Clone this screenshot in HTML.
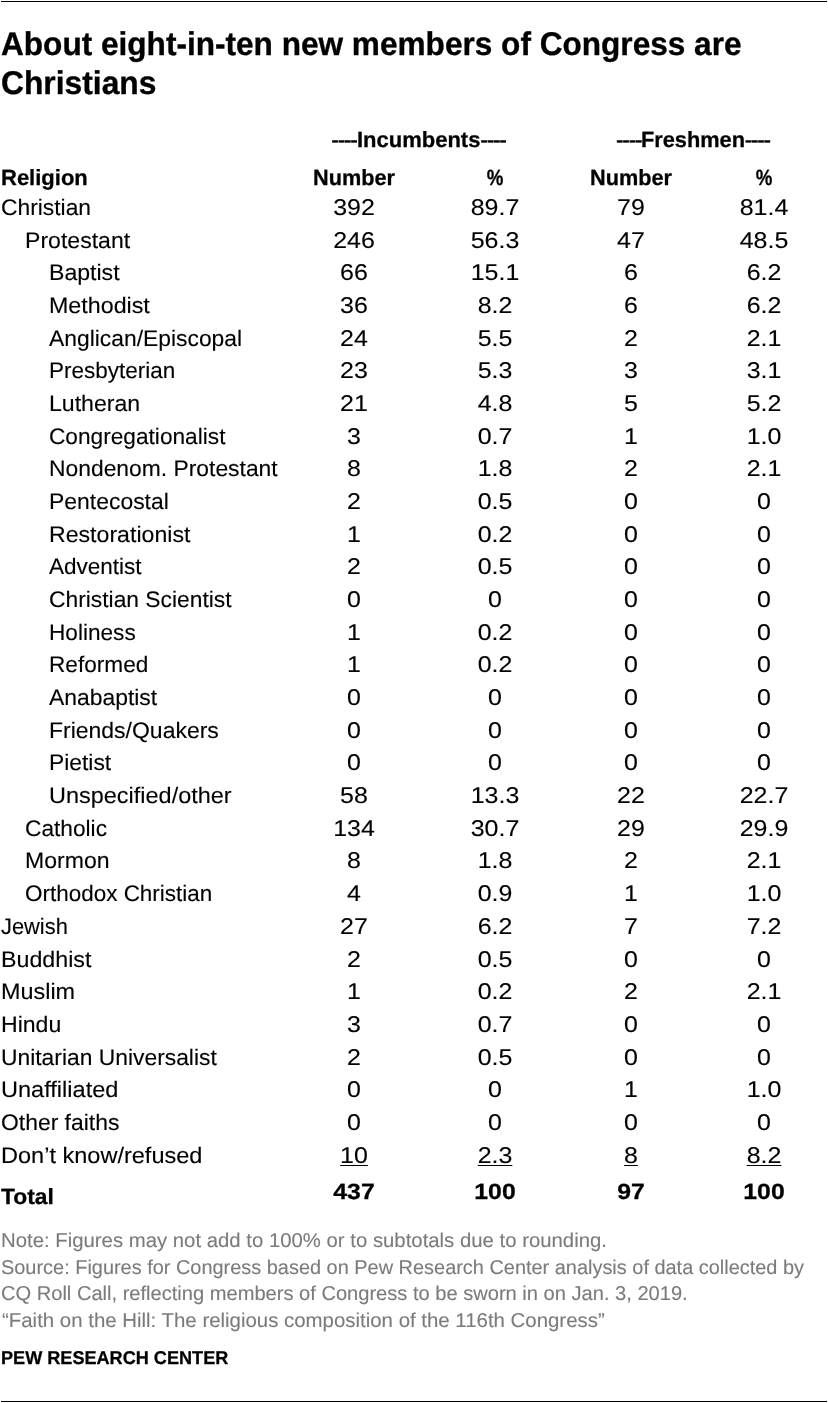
<!DOCTYPE html>
<html lang="en">
<head>
<meta charset="utf-8">
<title>About eight-in-ten new members of Congress are Christians</title>
<style>
html,body{margin:0;padding:0;background:#fff;}
body{width:828px;height:1403px;position:relative;overflow:hidden;font-family:"Liberation Sans", sans-serif;color:#000;text-rendering:geometricPrecision;}
.t{position:absolute;white-space:pre;margin:0;padding:0;-webkit-text-stroke:0.12px currentColor;}
.l{transform-origin:0 50%;}
.c{text-align:center;transform-origin:50% 50%;}
.b{font-weight:bold;-webkit-text-stroke:0.28px #000;}
.g{color:#7b7b7b;}
.ti{-webkit-text-stroke:0.35px #000;}
.d{display:inline-block;font-weight:normal;font-size:18px;letter-spacing:-1px;position:relative;top:-0.9px;transform:scale(1.27,1.4);margin:0 2.7px;}
.u{text-decoration:underline;text-decoration-thickness:1.3px;text-underline-offset:2px;}
.rule{position:absolute;left:1px;width:826px;height:1px;background:#000;}
</style>
</head>
<body>
<div class="rule" style="top:1px"></div>
<div class="rule" style="top:1401px"></div>
<div class="t l b ti" style="left:1.00px;top:24px;font-size:32.8px;line-height:39px;transform:scaleX(0.963);">About eight-in-ten new members of Congress are</div>
<div class="t l b ti" style="left:1.00px;top:63px;font-size:32.8px;line-height:39px;transform:scaleX(0.969);">Christians</div>
<div class="t c b" style="left:298.70px;width:240px;top:127px;font-size:22px;line-height:26px;transform:scaleX(1.0);"><span class="d">----</span>Incumbents<span class="d">----</span></div>
<div class="t c b" style="left:573.30px;width:240px;top:127px;font-size:22px;line-height:26px;transform:scaleX(0.99);"><span class="d">----</span>Freshmen<span class="d">----</span></div>
<div class="t l b" style="left:1.00px;top:165px;font-size:22px;line-height:26px;transform:scaleX(1.0);">Religion</div>
<div class="t c b" style="left:234.00px;width:240px;top:165px;font-size:22px;line-height:26px;transform:scaleX(0.985);">Number</div>
<div class="t c b" style="left:374.80px;width:240px;top:165px;font-size:22px;line-height:26px;transform:scaleX(0.85);">%</div>
<div class="t c b" style="left:511.00px;width:240px;top:165px;font-size:22px;line-height:26px;transform:scaleX(0.985);">Number</div>
<div class="t c b" style="left:644.30px;width:240px;top:165px;font-size:22px;line-height:26px;transform:scaleX(0.85);">%</div>
<div class="t l " style="left:1.40px;top:194px;font-size:22.5px;line-height:27px;transform:scaleX(1.0137);">Christian</div>
<div class="t c " style="left:234.00px;width:240px;top:194px;font-size:22.8px;line-height:27px;transform:scaleX(1.095);">392</div>
<div class="t c " style="left:374.80px;width:240px;top:194px;font-size:22.8px;line-height:27px;transform:scaleX(1.095);">89.7</div>
<div class="t c " style="left:511.00px;width:240px;top:194px;font-size:22.8px;line-height:27px;transform:scaleX(1.095);">79</div>
<div class="t c " style="left:644.30px;width:240px;top:194px;font-size:22.8px;line-height:27px;transform:scaleX(1.095);">81.4</div>
<div class="t l " style="left:24.80px;top:227px;font-size:22.5px;line-height:27px;transform:scaleX(1.0257);">Protestant</div>
<div class="t c " style="left:234.00px;width:240px;top:227px;font-size:22.8px;line-height:27px;transform:scaleX(1.095);">246</div>
<div class="t c " style="left:374.80px;width:240px;top:227px;font-size:22.8px;line-height:27px;transform:scaleX(1.095);">56.3</div>
<div class="t c " style="left:511.00px;width:240px;top:227px;font-size:22.8px;line-height:27px;transform:scaleX(1.095);">47</div>
<div class="t c " style="left:644.30px;width:240px;top:227px;font-size:22.8px;line-height:27px;transform:scaleX(1.095);">48.5</div>
<div class="t l " style="left:49.00px;top:259px;font-size:22.5px;line-height:27px;transform:scaleX(1.026);">Baptist</div>
<div class="t c " style="left:234.00px;width:240px;top:259px;font-size:22.8px;line-height:27px;transform:scaleX(1.095);">66</div>
<div class="t c " style="left:374.80px;width:240px;top:259px;font-size:22.8px;line-height:27px;transform:scaleX(1.095);">15.1</div>
<div class="t c " style="left:511.00px;width:240px;top:259px;font-size:22.8px;line-height:27px;transform:scaleX(1.095);">6</div>
<div class="t c " style="left:644.30px;width:240px;top:259px;font-size:22.8px;line-height:27px;transform:scaleX(1.095);">6.2</div>
<div class="t l " style="left:49.00px;top:292px;font-size:22.5px;line-height:27px;transform:scaleX(1.0335);">Methodist</div>
<div class="t c " style="left:234.00px;width:240px;top:292px;font-size:22.8px;line-height:27px;transform:scaleX(1.095);">36</div>
<div class="t c " style="left:374.80px;width:240px;top:292px;font-size:22.8px;line-height:27px;transform:scaleX(1.095);">8.2</div>
<div class="t c " style="left:511.00px;width:240px;top:292px;font-size:22.8px;line-height:27px;transform:scaleX(1.095);">6</div>
<div class="t c " style="left:644.30px;width:240px;top:292px;font-size:22.8px;line-height:27px;transform:scaleX(1.095);">6.2</div>
<div class="t l " style="left:49.00px;top:325px;font-size:22.5px;line-height:27px;transform:scaleX(1.0157);">Anglican/Episcopal</div>
<div class="t c " style="left:234.00px;width:240px;top:325px;font-size:22.8px;line-height:27px;transform:scaleX(1.095);">24</div>
<div class="t c " style="left:374.80px;width:240px;top:325px;font-size:22.8px;line-height:27px;transform:scaleX(1.095);">5.5</div>
<div class="t c " style="left:511.00px;width:240px;top:325px;font-size:22.8px;line-height:27px;transform:scaleX(1.095);">2</div>
<div class="t c " style="left:644.30px;width:240px;top:325px;font-size:22.8px;line-height:27px;transform:scaleX(1.095);">2.1</div>
<div class="t l " style="left:49.00px;top:357px;font-size:22.5px;line-height:27px;transform:scaleX(0.9992);">Presbyterian</div>
<div class="t c " style="left:234.00px;width:240px;top:357px;font-size:22.8px;line-height:27px;transform:scaleX(1.095);">23</div>
<div class="t c " style="left:374.80px;width:240px;top:357px;font-size:22.8px;line-height:27px;transform:scaleX(1.095);">5.3</div>
<div class="t c " style="left:511.00px;width:240px;top:357px;font-size:22.8px;line-height:27px;transform:scaleX(1.095);">3</div>
<div class="t c " style="left:644.30px;width:240px;top:357px;font-size:22.8px;line-height:27px;transform:scaleX(1.095);">3.1</div>
<div class="t l " style="left:49.00px;top:390px;font-size:22.5px;line-height:27px;transform:scaleX(1.0269);">Lutheran</div>
<div class="t c " style="left:234.00px;width:240px;top:390px;font-size:22.8px;line-height:27px;transform:scaleX(1.095);">21</div>
<div class="t c " style="left:374.80px;width:240px;top:390px;font-size:22.8px;line-height:27px;transform:scaleX(1.095);">4.8</div>
<div class="t c " style="left:511.00px;width:240px;top:390px;font-size:22.8px;line-height:27px;transform:scaleX(1.095);">5</div>
<div class="t c " style="left:644.30px;width:240px;top:390px;font-size:22.8px;line-height:27px;transform:scaleX(1.095);">5.2</div>
<div class="t l " style="left:49.00px;top:423px;font-size:22.5px;line-height:27px;transform:scaleX(1.0075);">Congregationalist</div>
<div class="t c " style="left:234.00px;width:240px;top:423px;font-size:22.8px;line-height:27px;transform:scaleX(1.095);">3</div>
<div class="t c " style="left:374.80px;width:240px;top:423px;font-size:22.8px;line-height:27px;transform:scaleX(1.095);">0.7</div>
<div class="t c " style="left:511.00px;width:240px;top:423px;font-size:22.8px;line-height:27px;transform:scaleX(1.095);">1</div>
<div class="t c " style="left:644.30px;width:240px;top:423px;font-size:22.8px;line-height:27px;transform:scaleX(1.095);">1.0</div>
<div class="t l " style="left:49.00px;top:455px;font-size:22.5px;line-height:27px;transform:scaleX(1.0156);">Nondenom. Protestant</div>
<div class="t c " style="left:234.00px;width:240px;top:455px;font-size:22.8px;line-height:27px;transform:scaleX(1.095);">8</div>
<div class="t c " style="left:374.80px;width:240px;top:455px;font-size:22.8px;line-height:27px;transform:scaleX(1.095);">1.8</div>
<div class="t c " style="left:511.00px;width:240px;top:455px;font-size:22.8px;line-height:27px;transform:scaleX(1.095);">2</div>
<div class="t c " style="left:644.30px;width:240px;top:455px;font-size:22.8px;line-height:27px;transform:scaleX(1.095);">2.1</div>
<div class="t l " style="left:49.00px;top:488px;font-size:22.5px;line-height:27px;transform:scaleX(1.019);">Pentecostal</div>
<div class="t c " style="left:234.00px;width:240px;top:488px;font-size:22.8px;line-height:27px;transform:scaleX(1.095);">2</div>
<div class="t c " style="left:374.80px;width:240px;top:488px;font-size:22.8px;line-height:27px;transform:scaleX(1.095);">0.5</div>
<div class="t c " style="left:511.00px;width:240px;top:488px;font-size:22.8px;line-height:27px;transform:scaleX(1.095);">0</div>
<div class="t c " style="left:644.30px;width:240px;top:488px;font-size:22.8px;line-height:27px;transform:scaleX(1.095);">0</div>
<div class="t l " style="left:49.00px;top:521px;font-size:22.5px;line-height:27px;transform:scaleX(1.0277);">Restorationist</div>
<div class="t c " style="left:234.00px;width:240px;top:521px;font-size:22.8px;line-height:27px;transform:scaleX(1.095);">1</div>
<div class="t c " style="left:374.80px;width:240px;top:521px;font-size:22.8px;line-height:27px;transform:scaleX(1.095);">0.2</div>
<div class="t c " style="left:511.00px;width:240px;top:521px;font-size:22.8px;line-height:27px;transform:scaleX(1.095);">0</div>
<div class="t c " style="left:644.30px;width:240px;top:521px;font-size:22.8px;line-height:27px;transform:scaleX(1.095);">0</div>
<div class="t l " style="left:49.00px;top:553px;font-size:22.5px;line-height:27px;transform:scaleX(1.0);">Adventist</div>
<div class="t c " style="left:234.00px;width:240px;top:553px;font-size:22.8px;line-height:27px;transform:scaleX(1.095);">2</div>
<div class="t c " style="left:374.80px;width:240px;top:553px;font-size:22.8px;line-height:27px;transform:scaleX(1.095);">0.5</div>
<div class="t c " style="left:511.00px;width:240px;top:553px;font-size:22.8px;line-height:27px;transform:scaleX(1.095);">0</div>
<div class="t c " style="left:644.30px;width:240px;top:553px;font-size:22.8px;line-height:27px;transform:scaleX(1.095);">0</div>
<div class="t l " style="left:49.00px;top:586px;font-size:22.5px;line-height:27px;transform:scaleX(1.0139);">Christian Scientist</div>
<div class="t c " style="left:234.00px;width:240px;top:586px;font-size:22.8px;line-height:27px;transform:scaleX(1.095);">0</div>
<div class="t c " style="left:374.80px;width:240px;top:586px;font-size:22.8px;line-height:27px;transform:scaleX(1.095);">0</div>
<div class="t c " style="left:511.00px;width:240px;top:586px;font-size:22.8px;line-height:27px;transform:scaleX(1.095);">0</div>
<div class="t c " style="left:644.30px;width:240px;top:586px;font-size:22.8px;line-height:27px;transform:scaleX(1.095);">0</div>
<div class="t l " style="left:49.00px;top:619px;font-size:22.5px;line-height:27px;transform:scaleX(1.0048);">Holiness</div>
<div class="t c " style="left:234.00px;width:240px;top:619px;font-size:22.8px;line-height:27px;transform:scaleX(1.095);">1</div>
<div class="t c " style="left:374.80px;width:240px;top:619px;font-size:22.8px;line-height:27px;transform:scaleX(1.095);">0.2</div>
<div class="t c " style="left:511.00px;width:240px;top:619px;font-size:22.8px;line-height:27px;transform:scaleX(1.095);">0</div>
<div class="t c " style="left:644.30px;width:240px;top:619px;font-size:22.8px;line-height:27px;transform:scaleX(1.095);">0</div>
<div class="t l " style="left:49.00px;top:651px;font-size:22.5px;line-height:27px;transform:scaleX(1.0053);">Reformed</div>
<div class="t c " style="left:234.00px;width:240px;top:651px;font-size:22.8px;line-height:27px;transform:scaleX(1.095);">1</div>
<div class="t c " style="left:374.80px;width:240px;top:651px;font-size:22.8px;line-height:27px;transform:scaleX(1.095);">0.2</div>
<div class="t c " style="left:511.00px;width:240px;top:651px;font-size:22.8px;line-height:27px;transform:scaleX(1.095);">0</div>
<div class="t c " style="left:644.30px;width:240px;top:651px;font-size:22.8px;line-height:27px;transform:scaleX(1.095);">0</div>
<div class="t l " style="left:49.00px;top:684px;font-size:22.5px;line-height:27px;transform:scaleX(1.0172);">Anabaptist</div>
<div class="t c " style="left:234.00px;width:240px;top:684px;font-size:22.8px;line-height:27px;transform:scaleX(1.095);">0</div>
<div class="t c " style="left:374.80px;width:240px;top:684px;font-size:22.8px;line-height:27px;transform:scaleX(1.095);">0</div>
<div class="t c " style="left:511.00px;width:240px;top:684px;font-size:22.8px;line-height:27px;transform:scaleX(1.095);">0</div>
<div class="t c " style="left:644.30px;width:240px;top:684px;font-size:22.8px;line-height:27px;transform:scaleX(1.095);">0</div>
<div class="t l " style="left:49.00px;top:717px;font-size:22.5px;line-height:27px;transform:scaleX(1.0211);">Friends/Quakers</div>
<div class="t c " style="left:234.00px;width:240px;top:717px;font-size:22.8px;line-height:27px;transform:scaleX(1.095);">0</div>
<div class="t c " style="left:374.80px;width:240px;top:717px;font-size:22.8px;line-height:27px;transform:scaleX(1.095);">0</div>
<div class="t c " style="left:511.00px;width:240px;top:717px;font-size:22.8px;line-height:27px;transform:scaleX(1.095);">0</div>
<div class="t c " style="left:644.30px;width:240px;top:717px;font-size:22.8px;line-height:27px;transform:scaleX(1.095);">0</div>
<div class="t l " style="left:49.00px;top:749px;font-size:22.5px;line-height:27px;transform:scaleX(1.0145);">Pietist</div>
<div class="t c " style="left:234.00px;width:240px;top:749px;font-size:22.8px;line-height:27px;transform:scaleX(1.095);">0</div>
<div class="t c " style="left:374.80px;width:240px;top:749px;font-size:22.8px;line-height:27px;transform:scaleX(1.095);">0</div>
<div class="t c " style="left:511.00px;width:240px;top:749px;font-size:22.8px;line-height:27px;transform:scaleX(1.095);">0</div>
<div class="t c " style="left:644.30px;width:240px;top:749px;font-size:22.8px;line-height:27px;transform:scaleX(1.095);">0</div>
<div class="t l " style="left:49.00px;top:782px;font-size:22.5px;line-height:27px;transform:scaleX(1.0431);">Unspecified/other</div>
<div class="t c " style="left:234.00px;width:240px;top:782px;font-size:22.8px;line-height:27px;transform:scaleX(1.095);">58</div>
<div class="t c " style="left:374.80px;width:240px;top:782px;font-size:22.8px;line-height:27px;transform:scaleX(1.095);">13.3</div>
<div class="t c " style="left:511.00px;width:240px;top:782px;font-size:22.8px;line-height:27px;transform:scaleX(1.095);">22</div>
<div class="t c " style="left:644.30px;width:240px;top:782px;font-size:22.8px;line-height:27px;transform:scaleX(1.095);">22.7</div>
<div class="t l " style="left:24.80px;top:815px;font-size:22.5px;line-height:27px;transform:scaleX(1.0085);">Catholic</div>
<div class="t c " style="left:234.00px;width:240px;top:815px;font-size:22.8px;line-height:27px;transform:scaleX(1.095);">134</div>
<div class="t c " style="left:374.80px;width:240px;top:815px;font-size:22.8px;line-height:27px;transform:scaleX(1.095);">30.7</div>
<div class="t c " style="left:511.00px;width:240px;top:815px;font-size:22.8px;line-height:27px;transform:scaleX(1.095);">29</div>
<div class="t c " style="left:644.30px;width:240px;top:815px;font-size:22.8px;line-height:27px;transform:scaleX(1.095);">29.9</div>
<div class="t l " style="left:24.80px;top:847px;font-size:22.5px;line-height:27px;transform:scaleX(1.0243);">Mormon</div>
<div class="t c " style="left:234.00px;width:240px;top:847px;font-size:22.8px;line-height:27px;transform:scaleX(1.095);">8</div>
<div class="t c " style="left:374.80px;width:240px;top:847px;font-size:22.8px;line-height:27px;transform:scaleX(1.095);">1.8</div>
<div class="t c " style="left:511.00px;width:240px;top:847px;font-size:22.8px;line-height:27px;transform:scaleX(1.095);">2</div>
<div class="t c " style="left:644.30px;width:240px;top:847px;font-size:22.8px;line-height:27px;transform:scaleX(1.095);">2.1</div>
<div class="t l " style="left:24.80px;top:880px;font-size:22.5px;line-height:27px;transform:scaleX(0.9984);">Orthodox Christian</div>
<div class="t c " style="left:234.00px;width:240px;top:880px;font-size:22.8px;line-height:27px;transform:scaleX(1.095);">4</div>
<div class="t c " style="left:374.80px;width:240px;top:880px;font-size:22.8px;line-height:27px;transform:scaleX(1.095);">0.9</div>
<div class="t c " style="left:511.00px;width:240px;top:880px;font-size:22.8px;line-height:27px;transform:scaleX(1.095);">1</div>
<div class="t c " style="left:644.30px;width:240px;top:880px;font-size:22.8px;line-height:27px;transform:scaleX(1.095);">1.0</div>
<div class="t l " style="left:1.40px;top:913px;font-size:22.5px;line-height:27px;transform:scaleX(0.971);">Jewish</div>
<div class="t c " style="left:234.00px;width:240px;top:913px;font-size:22.8px;line-height:27px;transform:scaleX(1.095);">27</div>
<div class="t c " style="left:374.80px;width:240px;top:913px;font-size:22.8px;line-height:27px;transform:scaleX(1.095);">6.2</div>
<div class="t c " style="left:511.00px;width:240px;top:913px;font-size:22.8px;line-height:27px;transform:scaleX(1.095);">7</div>
<div class="t c " style="left:644.30px;width:240px;top:913px;font-size:22.8px;line-height:27px;transform:scaleX(1.095);">7.2</div>
<div class="t l " style="left:1.40px;top:946px;font-size:22.5px;line-height:27px;transform:scaleX(1.0321);">Buddhist</div>
<div class="t c " style="left:234.00px;width:240px;top:946px;font-size:22.8px;line-height:27px;transform:scaleX(1.095);">2</div>
<div class="t c " style="left:374.80px;width:240px;top:946px;font-size:22.8px;line-height:27px;transform:scaleX(1.095);">0.5</div>
<div class="t c " style="left:511.00px;width:240px;top:946px;font-size:22.8px;line-height:27px;transform:scaleX(1.095);">0</div>
<div class="t c " style="left:644.30px;width:240px;top:946px;font-size:22.8px;line-height:27px;transform:scaleX(1.095);">0</div>
<div class="t l " style="left:1.40px;top:978px;font-size:22.5px;line-height:27px;transform:scaleX(1.0397);">Muslim</div>
<div class="t c " style="left:234.00px;width:240px;top:978px;font-size:22.8px;line-height:27px;transform:scaleX(1.095);">1</div>
<div class="t c " style="left:374.80px;width:240px;top:978px;font-size:22.8px;line-height:27px;transform:scaleX(1.095);">0.2</div>
<div class="t c " style="left:511.00px;width:240px;top:978px;font-size:22.8px;line-height:27px;transform:scaleX(1.095);">2</div>
<div class="t c " style="left:644.30px;width:240px;top:978px;font-size:22.8px;line-height:27px;transform:scaleX(1.095);">2.1</div>
<div class="t l " style="left:1.40px;top:1011px;font-size:22.5px;line-height:27px;transform:scaleX(1.025);">Hindu</div>
<div class="t c " style="left:234.00px;width:240px;top:1011px;font-size:22.8px;line-height:27px;transform:scaleX(1.095);">3</div>
<div class="t c " style="left:374.80px;width:240px;top:1011px;font-size:22.8px;line-height:27px;transform:scaleX(1.095);">0.7</div>
<div class="t c " style="left:511.00px;width:240px;top:1011px;font-size:22.8px;line-height:27px;transform:scaleX(1.095);">0</div>
<div class="t c " style="left:644.30px;width:240px;top:1011px;font-size:22.8px;line-height:27px;transform:scaleX(1.095);">0</div>
<div class="t l " style="left:1.40px;top:1044px;font-size:22.5px;line-height:27px;transform:scaleX(1.015);">Unitarian Universalist</div>
<div class="t c " style="left:234.00px;width:240px;top:1044px;font-size:22.8px;line-height:27px;transform:scaleX(1.095);">2</div>
<div class="t c " style="left:374.80px;width:240px;top:1044px;font-size:22.8px;line-height:27px;transform:scaleX(1.095);">0.5</div>
<div class="t c " style="left:511.00px;width:240px;top:1044px;font-size:22.8px;line-height:27px;transform:scaleX(1.095);">0</div>
<div class="t c " style="left:644.30px;width:240px;top:1044px;font-size:22.8px;line-height:27px;transform:scaleX(1.095);">0</div>
<div class="t l " style="left:1.40px;top:1076px;font-size:22.5px;line-height:27px;transform:scaleX(1.0465);">Unaffiliated</div>
<div class="t c " style="left:234.00px;width:240px;top:1076px;font-size:22.8px;line-height:27px;transform:scaleX(1.095);">0</div>
<div class="t c " style="left:374.80px;width:240px;top:1076px;font-size:22.8px;line-height:27px;transform:scaleX(1.095);">0</div>
<div class="t c " style="left:511.00px;width:240px;top:1076px;font-size:22.8px;line-height:27px;transform:scaleX(1.095);">1</div>
<div class="t c " style="left:644.30px;width:240px;top:1076px;font-size:22.8px;line-height:27px;transform:scaleX(1.095);">1.0</div>
<div class="t l " style="left:1.40px;top:1109px;font-size:22.5px;line-height:27px;transform:scaleX(1.0174);">Other faiths</div>
<div class="t c " style="left:234.00px;width:240px;top:1109px;font-size:22.8px;line-height:27px;transform:scaleX(1.095);">0</div>
<div class="t c " style="left:374.80px;width:240px;top:1109px;font-size:22.8px;line-height:27px;transform:scaleX(1.095);">0</div>
<div class="t c " style="left:511.00px;width:240px;top:1109px;font-size:22.8px;line-height:27px;transform:scaleX(1.095);">0</div>
<div class="t c " style="left:644.30px;width:240px;top:1109px;font-size:22.8px;line-height:27px;transform:scaleX(1.095);">0</div>
<div class="t l " style="left:1.40px;top:1142px;font-size:22.5px;line-height:27px;transform:scaleX(1.0458);">Don’t know/refused</div>
<div class="t c " style="left:234.00px;width:240px;top:1142px;font-size:22.8px;line-height:27px;transform:scaleX(1.095);"><span class="u">10</span></div>
<div class="t c " style="left:374.80px;width:240px;top:1142px;font-size:22.8px;line-height:27px;transform:scaleX(1.095);"><span class="u">2.3</span></div>
<div class="t c " style="left:511.00px;width:240px;top:1142px;font-size:22.8px;line-height:27px;transform:scaleX(1.095);"><span class="u">8</span></div>
<div class="t c " style="left:644.30px;width:240px;top:1142px;font-size:22.8px;line-height:27px;transform:scaleX(1.095);"><span class="u">8.2</span></div>
<div class="t l b" style="left:1.00px;top:1184px;font-size:22px;line-height:26px;transform:scaleX(1.0371);">Total</div>
<div class="t c b" style="left:234.00px;width:240px;top:1179px;font-size:22px;line-height:26px;transform:scaleX(1.125);">437</div>
<div class="t c b" style="left:374.80px;width:240px;top:1179px;font-size:22px;line-height:26px;transform:scaleX(1.125);">100</div>
<div class="t c b" style="left:511.00px;width:240px;top:1179px;font-size:22px;line-height:26px;transform:scaleX(1.125);">97</div>
<div class="t c b" style="left:644.30px;width:240px;top:1179px;font-size:22px;line-height:26px;transform:scaleX(1.125);">100</div>
<div class="t l g" style="left:0.80px;top:1229px;font-size:20px;line-height:24px;transform:scaleX(1.0168);">Note: Figures may not add to 100% or to subtotals due to rounding.</div>
<div class="t l g" style="left:0.80px;top:1256px;font-size:20px;line-height:24px;transform:scaleX(0.9963);">Source: Figures for Congress based on Pew Research Center analysis of data collected by</div>
<div class="t l g" style="left:0.80px;top:1282px;font-size:20px;line-height:24px;transform:scaleX(1.0044);">CQ Roll Call, reflecting members of Congress to be sworn in on Jan. 3, 2019.</div>
<div class="t l g" style="left:1.70px;top:1309px;font-size:20px;line-height:24px;transform:scaleX(1.0204);">“Faith on the Hill: The religious composition of the 116th Congress”</div>
<div class="t l b" style="left:1.00px;top:1347px;font-size:18.5px;line-height:22px;transform:scaleX(0.9784);">PEW RESEARCH CENTER</div>
</body>
</html>
